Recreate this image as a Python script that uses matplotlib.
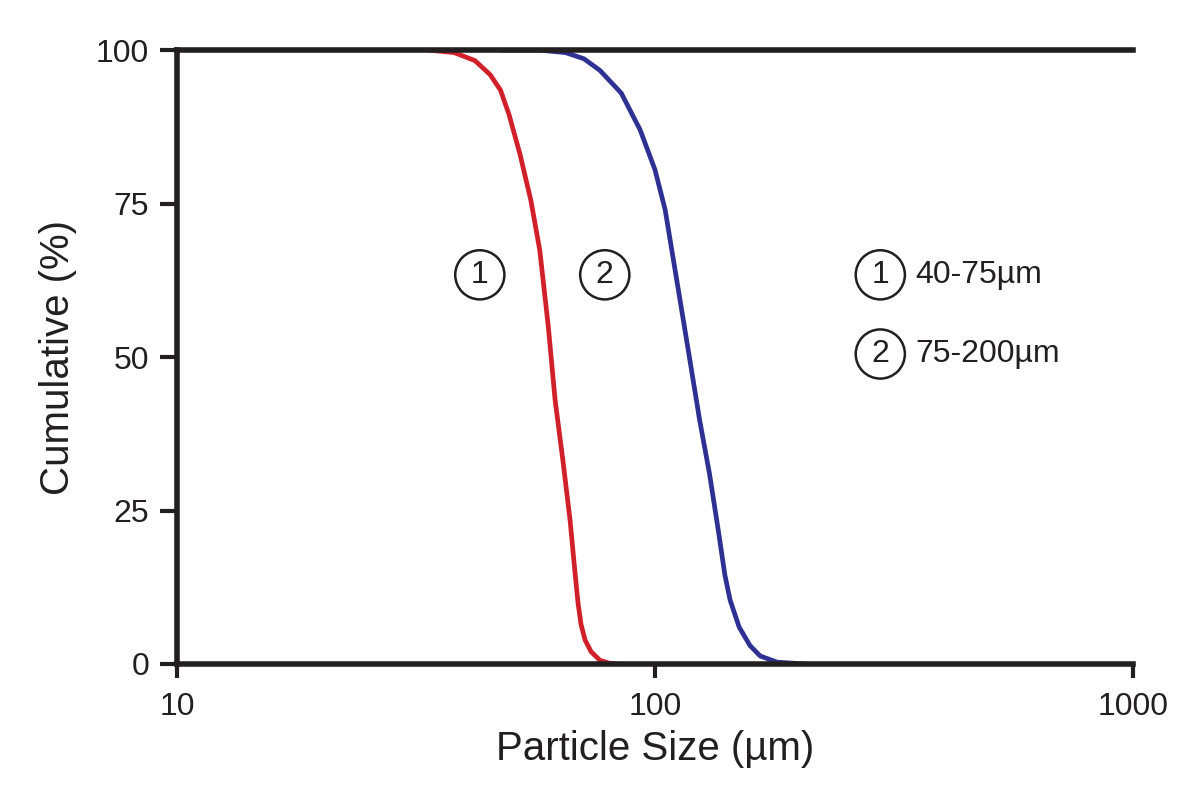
import matplotlib
matplotlib.use("Agg")
import matplotlib.pyplot as plt
import numpy as np

plt.rcParams['font.family'] = ['Liberation Sans', 'DejaVu Sans']

red_x = [33.8, 38, 42, 45.2, 47.5, 49.5, 52.2, 55, 57.4, 59.8, 61.8, 64.2, 66.4, 68.0, 69.0, 70.0, 71.4, 73.5, 76.7, 80, 83.2]
red_y = [100, 99.6, 98.3, 96.0, 93.5, 89.5, 83.0, 75.5, 67.4, 55, 43, 33, 23.5, 15, 10, 6.5, 3.9, 2, 0.6, 0.15, 0]
blue_x = [48, 57.4, 65, 71, 76.7, 85, 93.1, 100, 105, 112.8, 118, 124, 130, 135.5, 140, 143.6, 150, 158, 166, 180, 206]
blue_y = [100, 100, 99.6, 98.6, 96.7, 93, 87, 80.5, 74, 59.3, 50, 39.7, 31, 22, 14.5, 10.4, 6, 3, 1.3, 0.3, 0]

fig = plt.figure(figsize=(12, 7.9), dpi=100)
ax = fig.add_axes([0.1475, 0.1595, 0.7967, 0.777])
ax.plot(red_x, red_y, color="#d2202a", lw=3.4, solid_joinstyle="round")
ax.plot(blue_x, blue_y, color="#2e3192", lw=3.4, solid_joinstyle="round")
ax.set_xscale("log")
ax.set_xlim(10, 1000)
ax.set_ylim(0, 100)
ax.axhline(100, color="#231f20", lw=4, clip_on=False)
for s in ["top", "right"]:
    ax.spines[s].set_visible(False)
for s in ["left", "bottom"]:
    ax.spines[s].set_linewidth(4)
    ax.spines[s].set_color("#231f20")
ax.set_xticks([10, 100, 1000])
ax.set_xticklabels(["10", "100", "1000"])
ax.xaxis.set_minor_locator(matplotlib.ticker.NullLocator())
ax.set_yticks([0, 25, 50, 75, 100])
ax.tick_params(width=3, length=12, labelsize=23, colors="#231f20", pad=8)
ax.tick_params(axis="x", length=10, pad=10)
ax.set_xlabel("Particle Size (µm)", fontsize=29, color="#231f20", labelpad=6)
ax.set_ylabel("Cumulative (%)", fontsize=29, color="#231f20", labelpad=14)

circ = dict(boxstyle="circle,pad=0.3", fc="white", ec="#231f20", lw=1.8)
for xx, yy, t in [(43, 63.4, "1"), (78.5, 63.4, "2"), (296, 63.4, "1"), (296, 50.5, "2")]:
    ax.text(xx, yy, t, fontsize=23, ha="center", va="center", bbox=circ, color="#231f20")
ax.text(350, 63.4, "40-75µm", fontsize=23, ha="left", va="center", color="#231f20")
ax.text(350, 50.5, "75-200µm", fontsize=23, ha="left", va="center", color="#231f20")

fig.savefig("out.png", dpi=100)
